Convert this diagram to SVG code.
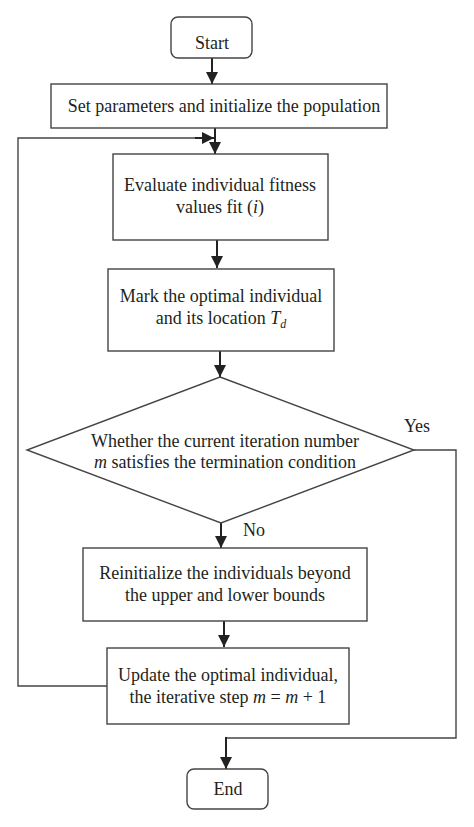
<svg xmlns="http://www.w3.org/2000/svg" width="474" height="827" viewBox="0 0 474 827">
<style>
.box{fill:#fff;stroke:#444;stroke-width:1.4}
.ln{fill:none;stroke:#444;stroke-width:1.4}
.ar{fill:none;stroke:#222;stroke-width:2}
text{font-family:"Liberation Serif","Times New Roman",serif;font-size:18px;fill:#231f20;text-anchor:middle}
.i{font-style:italic}
</style>
<defs>
<marker id="ahb" viewBox="0 0 10 10" refX="10" refY="5" markerWidth="12" markerHeight="12" orient="auto" markerUnits="userSpaceOnUse">
<path d="M0,0 L10,5 L0,10 Z" fill="#222"/>
</marker>
</defs>
<rect width="474" height="827" fill="#fff"/>
<g id="connectors">
<line class="ar" x1="212" y1="58" x2="212" y2="84" marker-end="url(#ahb)"/>
<line class="ar" x1="215" y1="128" x2="215" y2="154" marker-end="url(#ahb)"/>
<line class="ar" x1="217" y1="240" x2="217" y2="268" marker-end="url(#ahb)"/>
<line class="ar" x1="220" y1="351" x2="220" y2="377" marker-end="url(#ahb)"/>
<line class="ar" x1="221" y1="523" x2="221" y2="548" marker-end="url(#ahb)"/>
<line class="ar" x1="224" y1="621" x2="224" y2="647" marker-end="url(#ahb)"/>
<polyline class="ln" points="107,686 18,686 18,138 200,138"/>
<line class="ar" x1="195" y1="138" x2="214" y2="138" marker-end="url(#ahb)"/>
<polyline class="ln" points="414,450 456,450 456,738 226,738"/>
<line class="ar" x1="226" y1="737" x2="226" y2="769" marker-end="url(#ahb)"/>
<text x="417" y="432">Yes</text>
<text x="254" y="536">No</text>
</g>
<g id="start">
<rect class="box" x="171" y="17" width="81" height="41" rx="7"/>
<text x="212" y="49">Start</text>
</g>
<g id="init">
<rect class="box" x="51" y="84" width="336" height="44"/>
<text x="224" y="112">Set parameters and initialize the population</text>
</g>
<g id="evaluate">
<rect class="box" x="113" y="154" width="215" height="86"/>
<text x="220" y="191">Evaluate individual fitness</text>
<text x="220" y="213">values fit (<tspan class="i">i</tspan>)</text>
</g>
<g id="mark">
<rect class="box" x="108" y="269" width="226" height="82"/>
<text x="221" y="302">Mark the optimal individual</text>
<text x="221" y="324">and its location <tspan class="i">T</tspan><tspan class="i" font-size="12" dy="4">d</tspan></text>
</g>
<g id="decision">
<polygon class="box" points="220,377 414,450 221,523 27,450"/>
<text x="225" y="447">Whether the current iteration number</text>
<text x="225" y="468"><tspan class="i">m</tspan> satisfies the termination condition</text>
</g>
<g id="reinit">
<rect class="box" x="83" y="548" width="284" height="73"/>
<text x="225" y="579">Reinitialize the individuals beyond</text>
<text x="225" y="601">the upper and lower bounds</text>
</g>
<g id="update">
<rect class="box" x="107" y="648" width="242" height="76"/>
<text x="228" y="681">Update the optimal individual,</text>
<text x="228" y="703">the iterative step <tspan class="i">m</tspan> = <tspan class="i">m</tspan> + 1</text>
</g>
<g id="end">
<rect class="box" x="187" y="769" width="81" height="40" rx="7"/>
<text x="228" y="795">End</text>
</g>
</svg>
